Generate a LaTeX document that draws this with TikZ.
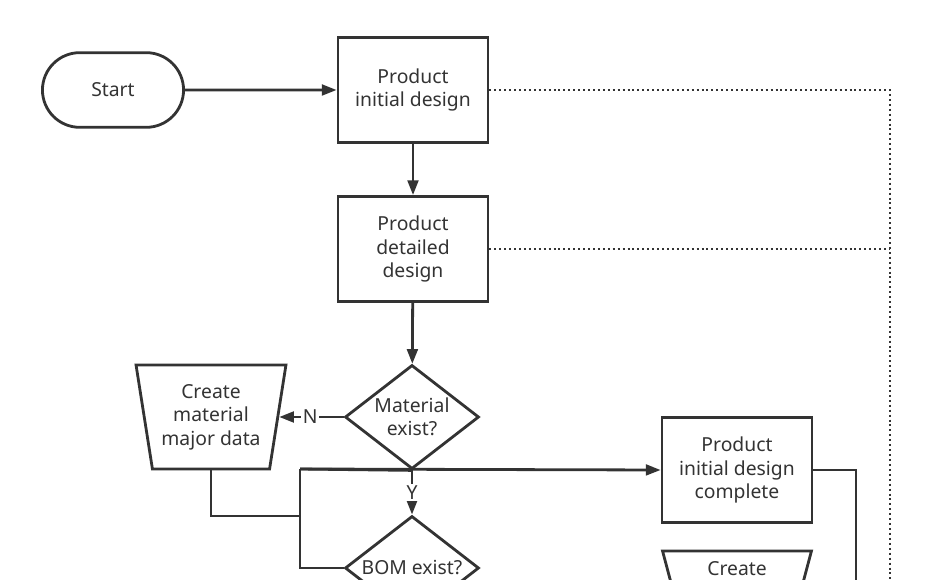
\documentclass[tikz,border=0pt]{standalone}
\usepackage{fontspec}
\setmainfont{Noto Sans}
\usetikzlibrary{shapes.geometric,shapes.misc,arrows.meta}
\definecolor{ln}{HTML}{333333}
\begin{document}
\begin{tikzpicture}[x=0.75pt,y=-0.75pt,
  every node/.style={font=\fontsize{14.5pt}{17.5pt}\selectfont, text=ln, align=center},
  box/.style={draw=ln, line width=2.1pt, minimum width=112.5pt, minimum height=78.75pt, inner sep=0pt},
  dia/.style={draw=ln, line width=2.1pt, diamond, minimum width=100.5pt, minimum height=78pt, inner sep=0pt, aspect=1.3},
  trap/.style={draw=ln, line width=2.1pt, trapezium, shape border rotate=180, trapezium stretches=true, minimum width=112.5pt, minimum height=78pt, trapezium left angle=78, trapezium right angle=78, inner sep=0pt},
  con/.style={draw=ln, line width=2.1pt},
  arr/.style={con, -{Triangle[length=11pt,width=8pt]}},
  dot/.style={draw=ln, line width=2.1pt, dash pattern=on 1.5pt off 2.2pt}]
\useasboundingbox (0,0) rectangle (928,580);
\clip (0,0) rectangle (928,580);
\node[draw=ln, line width=2.1pt, rounded rectangle, minimum width=112.5pt, minimum height=56pt] (start) at (113,90) {Start};
\node[box] (b1) at (413,90) {Product\\initial design};
\node[box] (b2) at (413,249) {Product\\detailed\\design};
\node[dia] (d1) at (412,417) {Material\\exist?};
\node[trap] (t1) at (211,417) {Create\\material\\major data};
\node[box] (b3) at (737,470) {Product\\initial design\\complete};
\node[dia] (d2) at (412,568) {BOM exist?};
\node[trap] (t2) at (737,603) {Create\\[34pt]\mbox{}};
\coordinate (j1) at (300,469);
\coordinate (j2) at (300,516);
\coordinate (e1) at (890,580);
\coordinate (e2) at (856,580);
\draw[arr] (start) -- (b1);
\draw[arr] (b1) -- (b2);
\draw[arr] (b2) -- (d1);
\draw[arr] (d1.west) -- node[fill=white, inner sep=1pt, pos=0.52]{N} (t1.east|-d1.west);
\draw[arr] (d1.south) -- node[fill=white, inner sep=1pt, pos=0.5]{Y} (d2.north);
\draw[arr] (j1) -- (b3.west);
\draw[con] (j1) -- (d1.south);
\draw[con] (j1) |- (d2.west);
\draw[con] (t1.south) |- (j2);
\draw[con] (b3.east) -| (e2);
\draw[dot] (b1.east) -| (e1);
\draw[dot] (b2.east) -- (b2.east-|e1);
\end{tikzpicture}
\end{document}
